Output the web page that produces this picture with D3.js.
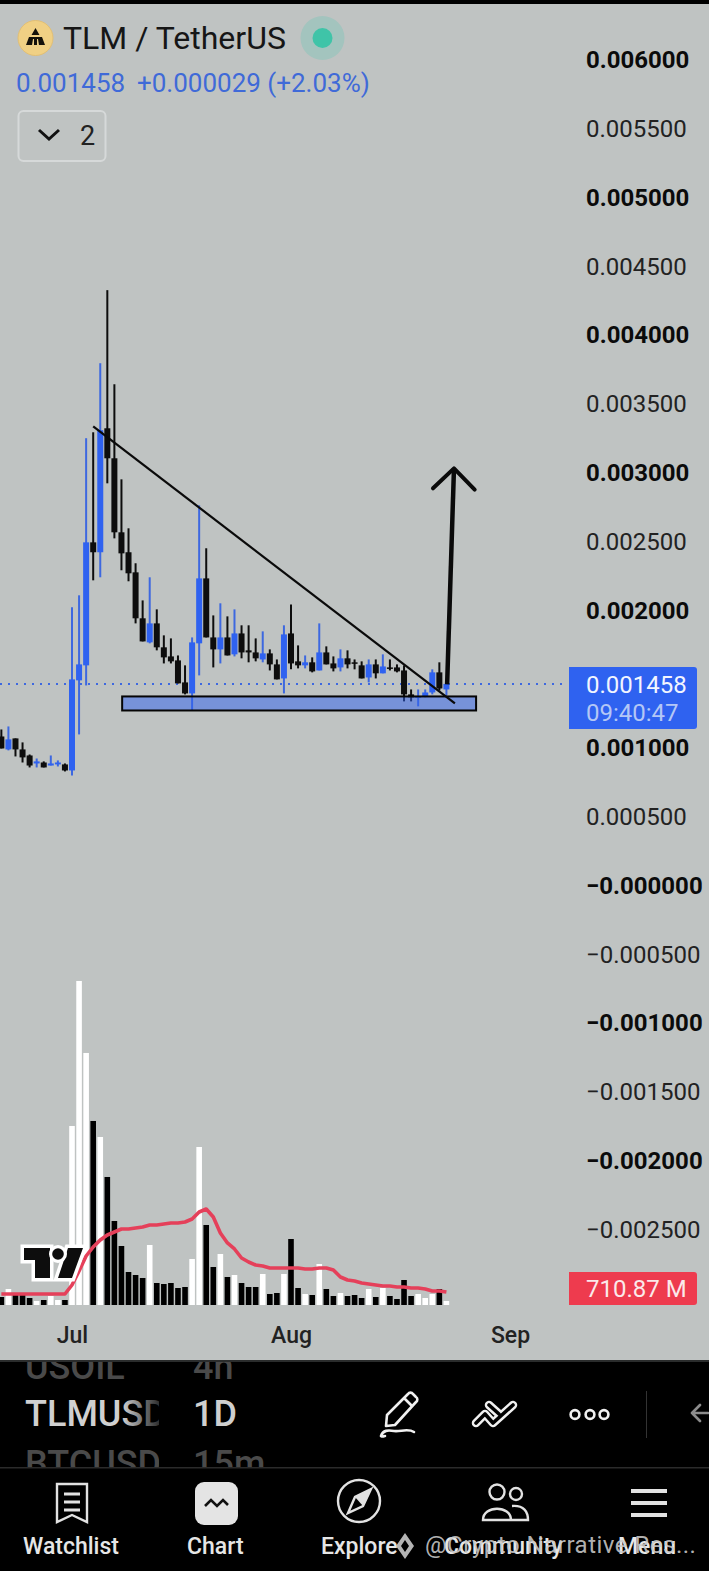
<!DOCTYPE html>
<html>
<head>
<meta charset="utf-8">
<script src="https://cdn.jsdelivr.net/npm/d3@7"></script>
<style>
html, body { margin: 0; padding: 0; background: #bfc3c2; }
svg { display: block; font-family: Roboto, sans-serif; }
</style>
</head>
<body>
<div id="chart"></div>
<script>
// Daily candles, first one is 10 days before 1 Jul
var first_day = Date.UTC(2023, 5, 21);

var opens = [.001076,.000982,.001062,.000982,.000938,.000880,.000887,.000865,.000873,.000873,
  .000829,.001484,.001593,.002487,.002415,.003316,.003098,.002560,.002415,.002269,
  .001935,.001760,.001898,.001724,.001658,.001629,.001469,.001389,.001753,.002225,
  .001796,.001709,.001796,.001673,.001825,.001702,.001687,.001636,.001680,.001600,
  .001498,.001825,.001622,.001593,.001615,.001556,.001687,.001607,.001578,.001644,
  .001615,.001593,.001505,.001600,.001535,.001578,.001578,.001556,.001382,.001360,
  .001367,.001396,.001542,.001418];
var closes = [.000989,.001055,.000982,.000924,.000865,.000895,.000851,.000880,.000887,.000829,
  .001491,.001600,.002487,.002415,.003302,.003098,.002560,.002407,.002262,.001935,
  .001767,.001898,.001724,.001651,.001622,.001462,.001389,.001760,.002225,.001796,
  .001709,.001796,.001665,.001825,.001687,.001687,.001644,.001680,.001600,.001491,
  .001818,.001607,.001593,.001615,.001549,.001687,.001600,.001571,.001644,.001600,
  .001607,.001498,.001600,.001535,.001585,.001571,.001549,.001382,.001360,.001367,
  .001396,.001542,.001425,.001458];
var highs = [.001127,.001149,.001062,.001033,.000945,.000916,.000895,.000938,.000902,.000880,
  .002015,.002102,.003244,.003287,.003789,.004320,.003636,.002945,.002589,.002335,
  .002065,.002233,.002000,.001811,.001789,.001665,.001593,.001796,.002756,.002444,
  .001956,.002044,.001949,.002000,.001884,.001884,.001789,.001840,.001709,.001636,
  .001884,.002036,.001738,.001665,.001651,.001898,.001731,.001658,.001709,.001702,
  .001636,.001622,.001636,.001636,.001673,.001636,.001600,.001593,.001418,.001418,
  .001418,.001564,.001615,.001469];
var lows = [.000989,.000975,.000931,.000887,.000851,.000851,.000851,.000865,.000858,.000822,
  .000793,.001091,.001447,.002211,.002233,.002916,.002516,.002284,.002204,.001898,
  .001767,.001753,.001702,.001607,.001607,.001462,.001382,.001265,.001520,.001796,
  .001578,.001607,.001665,.001658,.001644,.001615,.001622,.001615,.001556,.001491,
  .001389,.001564,.001571,.001571,.001542,.001556,.001600,.001549,.001549,.001571,
  .001564,.001498,.001469,.001498,.001535,.001556,.001542,.001331,.001331,.001295,
  .001360,.001382,.001411,.001375];

// Volume and its moving average, in millions
var volumes = [440,880,550,550,385,220,275,495,275,275,
  9845,17820,13860,10120,9240,7040,4620,3245,1815,1650,
  1485,3300,1210,1155,1210,935,990,2530,8690,4400,
  2090,2805,1540,1650,1210,990,990,1705,605,660,
  1705,3630,935,605,550,2255,880,495,660,495,
  550,385,880,440,935,495,330,1375,495,605,
  385,605,880,220];
var volume_ma = [605,605,605,605,605,605,605,605,605,605,
  1100,1870,2695,3190,3575,3850,4015,4180,4180,4235,
  4290,4400,4400,4455,4510,4510,4565,4730,5115,5280,
  4840,3960,3410,3080,2585,2365,2200,2145,2035,2035,
  2035,2035,2035,1980,1980,2035,2035,1925,1540,1375,
  1320,1210,1155,1100,1045,1045,990,990,935,935,
  880,770,770,711];

var price_ticks = [.006,.0055,.005,.0045,.004,.0035,.003,.0025,.002,.0015,.001,.0005,0,-.0005,-.001,-.0015,-.002,-.0025];
var bold_ticks = [.006,.005,.004,.003,.002,.001,0,-.001,-.002];
var month_ticks = [Date.UTC(2023,6,1), Date.UTC(2023,7,1), Date.UTC(2023,8,1)];

var last_price = .001458;
var last_price_text = "0.001458";
var change_text = "+0.000029 (+2.03%)";
var countdown = "09:40:47";
var ma_label = "710.87 M";

// Drawings on the chart, [candle number, price]
var trend_line = [[13, .00333], [64.2, .001316]];
var support_box = [[17.1, .001367], [67.2, .001265]];
var arrow_shaft = [[63.1, .001455], [64.07, .003025]];
var arrow_head = [[61.1, .00288], [64.07, .003025], [67, .00287]];

var blue = "#2f62f0", wick_blue = "#3d68e0", black = "#0d0d0d";

var width = 709, height = 1571;

var svg = d3.select("#chart").append("svg")
  .attr("width", width)
  .attr("height", height)
  .attr("viewBox", "0 0 " + width + " " + height);

svg.append("rect").attr("width", width).attr("height", height).attr("fill", "#bfc3c2");

var candles = d3.range(opens.length).map(function(i) {
  return {i: i, date: new Date(first_day + i*864e5), open: opens[i], close: closes[i], high: highs[i], low: lows[i], vol: volumes[i], ma: volume_ma[i]};
});

// Scales
var x = d3.scaleUtc()
  .domain([new Date(month_ticks[0]), new Date(month_ticks[2])])
  .range([72, 510]);

var y = d3.scaleLinear()
  .domain([.006, -.0025])
  .range([59, 1228.5]);

var y_vol = d3.scaleLinear()
  .domain([0, 18000])
  .range([1305, 977.7]);

function x_num(n) { return x(new Date(first_day + n*864e5)); }
function is_up(d) { return d.close >= d.open; }

// Volume pane
svg.append("g").selectAll("rect")
  .data(candles)
  .enter().append("rect")
  .attr("x", function(d) { return x(d.date) - 2.8; })
  .attr("width", 5.6)
  .attr("y", function(d) { return y_vol(d.vol); })
  .attr("height", function(d) { return y_vol(0) - y_vol(d.vol); })
  .attr("fill", function(d) { return is_up(d) ? "#ffffff" : "#000000"; });

svg.append("path")
  .datum(candles)
  .attr("fill", "none")
  .attr("stroke", "#e5405a")
  .attr("stroke-width", 3.6)
  .attr("stroke-linejoin", "round")
  .attr("d", d3.line()
    .x(function(d) { return x(d.date); })
    .y(function(d) { return y_vol(d.ma); }));

// Current price line
svg.append("line")
  .attr("x1", 0).attr("x2", 564)
  .attr("y1", y(last_price)).attr("y2", y(last_price))
  .attr("stroke", "#3d68e0")
  .attr("stroke-width", 2)
  .attr("stroke-dasharray", "2 6");

// Candles
var candle = svg.append("g").selectAll("g")
  .data(candles)
  .enter().append("g");

candle.append("line")
  .attr("x1", function(d) { return x(d.date); })
  .attr("x2", function(d) { return x(d.date); })
  .attr("y1", function(d) { return y(d.high); })
  .attr("y2", function(d) { return y(d.low); })
  .attr("stroke", function(d) { return is_up(d) ? wick_blue : black; })
  .attr("stroke-width", 2);

candle.append("rect")
  .attr("x", function(d) { return x(d.date) - 3; })
  .attr("width", 6)
  .attr("y", function(d) { return y(Math.max(d.open, d.close)); })
  .attr("height", function(d) { return Math.max(1.5, Math.abs(y(d.open) - y(d.close))); })
  .attr("fill", function(d) { return is_up(d) ? blue : black; });

// Drawings
svg.append("rect")
  .attr("x", x_num(support_box[0][0]))
  .attr("y", y(support_box[0][1]))
  .attr("width", x_num(support_box[1][0]) - x_num(support_box[0][0]))
  .attr("height", y(support_box[1][1]) - y(support_box[0][1]))
  .attr("fill", blue)
  .attr("fill-opacity", 0.5)
  .attr("stroke", "#050505")
  .attr("stroke-width", 2);

var draw_line = d3.line()
  .x(function(d) { return x_num(d[0]); })
  .y(function(d) { return y(d[1]); });

svg.append("path").attr("d", draw_line(trend_line))
  .attr("fill", "none").attr("stroke", "#0a0a0a").attr("stroke-width", 2.2);
svg.append("path").attr("d", draw_line(arrow_shaft))
  .attr("fill", "none").attr("stroke", "#0a0a0a").attr("stroke-width", 4.5);
svg.append("path").attr("d", draw_line(arrow_head))
  .attr("fill", "none").attr("stroke", "#0a0a0a").attr("stroke-width", 4)
  .attr("stroke-linecap", "round").attr("stroke-linejoin", "round");

// Price axis
var right_axis = d3.axisRight(y)
  .tickValues(price_ticks)
  .tickSize(0)
  .tickPadding(0)
  .tickFormat(function(d) {
    return d === 0 ? "\u22120.000000" : d3.format(".6f")(d).replace("-", "\u2212");
  });

var price_axis = svg.append("g")
  .attr("transform", "translate(586,1)")
  .call(right_axis);
price_axis.select(".domain").remove();
price_axis.selectAll("text")
  .attr("font-family", "Roboto, sans-serif")
  .attr("font-size", 24)
  .attr("fill", function(d) { return bold_ticks.indexOf(d) >= 0 ? "#0b0b0b" : "#222"; })
  .attr("font-weight", function(d) { return bold_ticks.indexOf(d) >= 0 ? 700 : 400; });

// Time axis
var bottom_axis = d3.axisBottom(x)
  .tickValues(month_ticks.map(function(d) { return new Date(d); }))
  .tickSize(0)
  .tickPadding(0)
  .tickFormat(d3.utcFormat("%b"));

var time_axis = svg.append("g")
  .attr("transform", "translate(0,1327)")
  .call(bottom_axis);
time_axis.select(".domain").remove();
time_axis.selectAll("text")
  .attr("font-family", "Roboto, sans-serif")
  .attr("font-size", 23)
  .attr("font-weight", 500)
  .attr("fill", "#222");

// Last price tag
svg.append("path")
  .attr("d", "M569,667H694a3,3 0 0 1 3,3V726a3,3 0 0 1 -3,3H569Z")
  .attr("fill", blue);
svg.append("text").attr("x", 586).attr("y", 693)
  .attr("font-size", 24).attr("fill", "#f2f5ff").text(last_price_text);
svg.append("text").attr("x", 586).attr("y", 721)
  .attr("font-size", 24).attr("fill", "#b4c7f6").text(countdown);

// Volume MA tag
svg.append("path")
  .attr("d", "M569,1272H694a3,3 0 0 1 3,3V1302a3,3 0 0 1 -3,3H569Z")
  .attr("fill", "#ee3b4e");
svg.append("text").attr("x", 586).attr("y", 1297)
  .attr("font-size", 24).attr("fill", "#fbe9ea").text(ma_label);

// Header
svg.append("circle").attr("cx", 35.5).attr("cy", 38).attr("r", 17.5)
  .attr("fill", "#f0d084").attr("stroke", "#e2bf74").attr("stroke-width", 1);
svg.append("path")
  .attr("d", "M35.5,28l4,7h-8Z M29,37h13l3,8h-6l-1,-6h-1v6h-3v-6h-1l-1,6h-6Z")
  .attr("fill", "#14110a");
svg.append("text").attr("x", 63).attr("y", 49)
  .attr("font-size", 32).attr("fill", "#161616").text("TLM / TetherUS");
svg.append("circle").attr("cx", 322.5).attr("cy", 38).attr("r", 22).attr("fill", "#a3c4be");
svg.append("circle").attr("cx", 322.5).attr("cy", 38).attr("r", 10).attr("fill", "#3fc4a8");
svg.append("text").attr("x", 16).attr("y", 92)
  .attr("font-size", 26).attr("fill", "#3f6ad8").text(last_price_text);
svg.append("text").attr("x", 137).attr("y", 92)
  .attr("font-size", 26).attr("fill", "#3f6ad8").text(change_text);
svg.append("rect").attr("x", 18.5).attr("y", 111).attr("width", 87).attr("height", 50).attr("rx", 5)
  .attr("fill", "none").attr("stroke", "#d6d9d9").attr("stroke-width", 2);
svg.append("path").attr("d", "M39,130l10,9l10,-9")
  .attr("fill", "none").attr("stroke", "#111").attr("stroke-width", 3);
svg.append("text").attr("x", 80).attr("y", 145)
  .attr("font-size", 27).attr("fill", "#222").text("2");

// TradingView mark
var logo = svg.append("g");
logo.append("path")
  .attr("d", "M24,1248H50V1278H35V1260H24Z M68,1248H83L72,1278H58Z")
  .attr("fill", "#0d0d0d").attr("stroke", "#fff").attr("stroke-width", 7)
  .attr("stroke-linejoin", "miter").attr("paint-order", "stroke");
logo.append("circle").attr("cx", 58).attr("cy", 1254).attr("r", 9).attr("fill", "#fff");
logo.append("circle").attr("cx", 58).attr("cy", 1254).attr("r", 5.8).attr("fill", "#0d0d0d");

// Top status bar and bottom app panel
svg.append("rect").attr("width", width).attr("height", 4).attr("fill", "#000");
svg.append("rect").attr("y", 1361).attr("width", width).attr("height", height - 1361).attr("fill", "#000");
svg.append("rect").attr("y", 1360).attr("width", width).attr("height", 2).attr("fill", "#2a2c2c");
svg.append("rect").attr("y", 1467).attr("width", width).attr("height", 1.5).attr("fill", "#2b2b2b");

var defs = svg.append("defs");
defs.append("clipPath").attr("id", "picker")
  .append("rect").attr("y", 1362).attr("width", 650).attr("height", 105);
defs.append("clipPath").attr("id", "picker_names")
  .append("rect").attr("y", 1362).attr("width", 159).attr("height", 105);
var fade = defs.append("linearGradient").attr("id", "fade")
  .attr("gradientUnits", "userSpaceOnUse")
  .attr("x1", 25).attr("x2", 160).attr("y1", 0).attr("y2", 0);
fade.append("stop").attr("offset", "0.72").attr("stop-color", "#d0d0d0");
fade.append("stop").attr("offset", "1").attr("stop-color", "#2a2a2a");

var picker = svg.append("g").attr("clip-path", "url(#picker)")
  .attr("font-size", 36).attr("font-weight", 500);
var picker_names = svg.append("g").attr("clip-path", "url(#picker_names)")
  .attr("font-size", 36).attr("font-weight", 500);
picker_names.append("text").attr("x", 25).attr("y", 1379).attr("fill", "#4a4a4a").text("USOIL");
picker.append("text").attr("x", 193).attr("y", 1379).attr("fill", "#4a4a4a").text("4h");
picker_names.append("text").attr("x", 25).attr("y", 1426).attr("fill", "url(#fade)").text("TLMUSD");
picker.append("text").attr("x", 193).attr("y", 1426).attr("fill", "#cfcfcf").text("1D");
picker_names.append("text").attr("x", 25).attr("y", 1476).attr("fill", "#4a4a4a").text("BTCUSD");
picker.append("text").attr("x", 193).attr("y", 1476).attr("fill", "#4a4a4a").text("15m");

// Toolbar icons
var icons = svg.append("g").attr("fill", "none").attr("stroke", "#f0f0f0").attr("stroke-width", 2.6)
  .attr("stroke-linejoin", "round").attr("stroke-linecap", "round");
icons.append("path").attr("d", "M387,1415L408,1394a3,3 0 0 1 5,0l3,3a3,3 0 0 1 0,5L395,1425L386,1426Z M404,1398l8,8");
icons.append("path").attr("d", "M381,1436c2,-6 7,-6 13,-5c6,1 14,-3 20,1 M381,1436c2,1 3,0 4,0");
var ribbon = "M476,1423L485,1414L493,1423L513,1405 M489,1405L499,1414";
svg.append("path").attr("d", ribbon).attr("fill", "none").attr("stroke", "#f0f0f0")
  .attr("stroke-width", 8.5).attr("stroke-linecap", "round").attr("stroke-linejoin", "round");
svg.append("path").attr("d", ribbon).attr("fill", "none").attr("stroke", "#000")
  .attr("stroke-width", 3.6).attr("stroke-linecap", "round").attr("stroke-linejoin", "round");
icons.append("circle").attr("cx", 575).attr("cy", 1414.5).attr("r", 4.4);
icons.append("circle").attr("cx", 590).attr("cy", 1414.5).attr("r", 4.4);
icons.append("circle").attr("cx", 604).attr("cy", 1414.5).attr("r", 4.4);
icons.append("path").attr("d", "M708,1413H692m8,-8l-8,8l8,8").attr("stroke", "#8c8c8c");
svg.append("rect").attr("x", 646).attr("y", 1391).attr("width", 1).attr("height", 47).attr("fill", "#333");

// Navigation icons
var nav = svg.append("g").attr("fill", "none").attr("stroke", "#e2e2e2").attr("stroke-width", 2.4);
nav.append("path").attr("d", "M57,1484H87V1522L72,1515L57,1522Z");
nav.append("path").attr("d", "M64,1494H80M64,1502H80M64,1510H80").attr("stroke-width", 3);
svg.append("rect").attr("x", 195).attr("y", 1482).attr("width", 43).attr("height", 43).attr("rx", 9).attr("fill", "#e4e4e4");
svg.append("path").attr("d", "M205,1506l6,-6l6,6l6,-6l5,5").attr("fill", "none").attr("stroke", "#111").attr("stroke-width", 2.6);
nav.append("circle").attr("cx", 359).attr("cy", 1501).attr("r", 21);
nav.append("path").attr("d", "M371,1489L363,1506L348,1513L355,1497Z");
svg.append("path").attr("d", "M371,1489L355,1497L363,1506Z").attr("fill", "#e2e2e2");
nav.append("circle").attr("cx", 497).attr("cy", 1492).attr("r", 7.5);
nav.append("circle").attr("cx", 516).attr("cy", 1494).attr("r", 6);
nav.append("path").attr("d", "M483,1520c0,-15 28,-15 28,0Z M512,1506c12,-1 16,6 16,14H511");
svg.append("g").selectAll("rect")
  .data([1491, 1503, 1515])
  .enter().append("rect")
  .attr("x", 631).attr("width", 36).attr("y", function(d) { return d - 2; }).attr("height", 4)
  .attr("fill", "#e2e2e2");

var nav_labels = svg.append("g").attr("font-size", 23).attr("font-weight", 500).attr("fill", "#e6e6e6");
nav_labels.append("text").attr("x", 23).attr("y", 1554).text("Watchlist");
nav_labels.append("text").attr("x", 187).attr("y", 1554).text("Chart");
nav_labels.append("text").attr("x", 321).attr("y", 1554).text("Explore");
nav_labels.append("text").attr("x", 444).attr("y", 1554).text("Community");
nav_labels.append("text").attr("x", 618).attr("y", 1554).text("Menu");

// Watermark over the navigation
svg.append("path").attr("d", "M405,1533l9,13l-9,13l-9,-13Z M405,1540l-4,6l4,6l4,-6Z")
  .attr("fill", "#c8c8c8").attr("fill-rule", "evenodd").attr("fill-opacity", 0.9);
svg.append("text").attr("x", 425).attr("y", 1553)
  .attr("font-size", 24).attr("letter-spacing", 0.5).attr("fill", "#c9c9c9").attr("fill-opacity", 0.9)
  .text("@Crypto Narrative Res...");
</script>
</body>
</html>
